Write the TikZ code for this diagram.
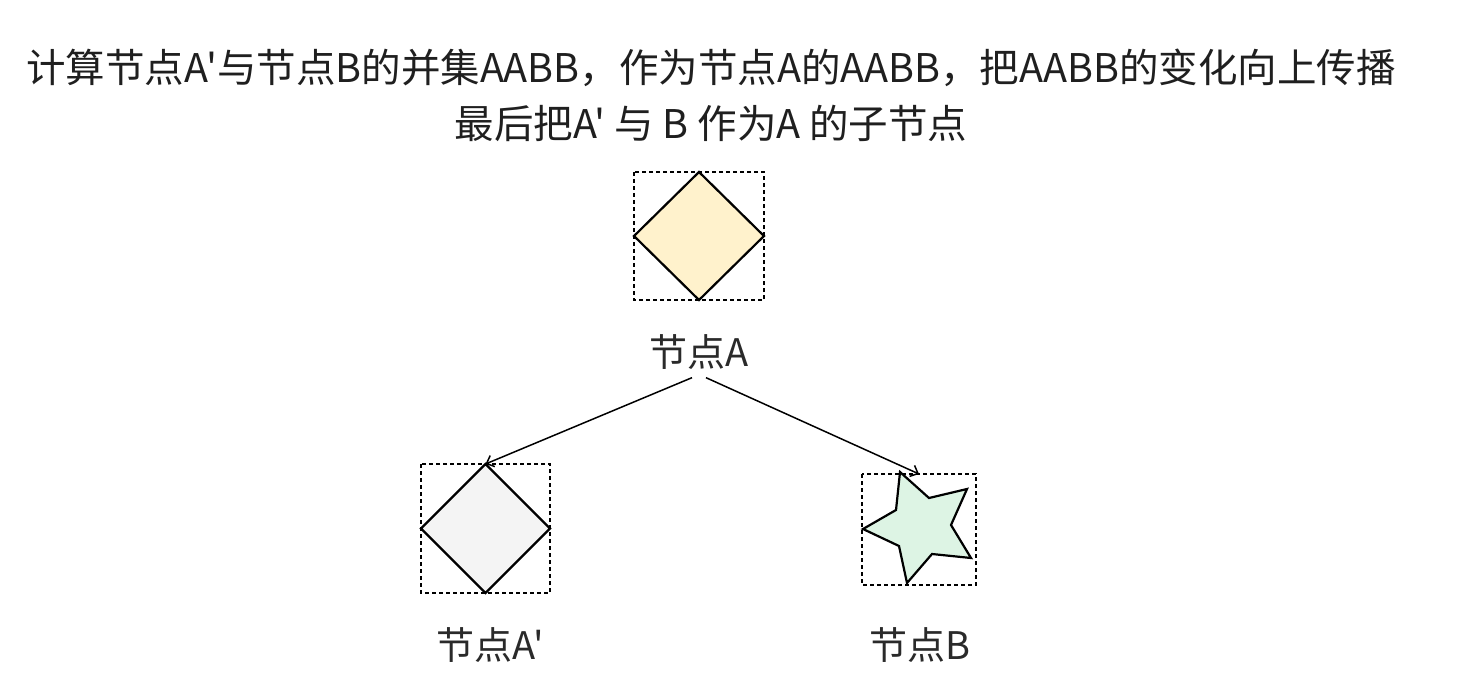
\documentclass[tikz,border=0pt]{standalone}
\usepackage{fontspec}
\setmainfont{Noto Sans CJK SC}[Ligatures=TeXOff]
\usetikzlibrary{arrows.meta}
\definecolor{txt}{HTML}{1F1F1F}
\definecolor{lbl}{HTML}{2A2A2A}
\definecolor{fillA}{HTML}{FFF2CC}
\definecolor{fillAp}{HTML}{F4F4F4}
\definecolor{fillB}{HTML}{DDF4E4}
\begin{document}
\begin{tikzpicture}[x=1pt,y=-1pt,
  aabb/.style={draw=black,dash pattern=on 4pt off 3pt,line width=1.3pt,inner sep=0,outer sep=0},
  shapeline/.style={draw=black,line width=2.2pt,line join=miter},
  lab/.style={text=lbl,font=\fontsize{38}{44}\selectfont,inner sep=0},
  link/.style={draw=black,line width=1.5pt,-{Straight Barb[length=6.5pt,width=12pt,line width=1.5pt]}}]
\useasboundingbox[fill=white] (0,0) rectangle (1463,699);
\node[text=txt,align=center,font=\fontsize{39.5}{56}\selectfont,inner sep=0] (title) at (711,95)
  {计算节点A'与节点B的并集AABB，作为节点A的AABB，把AABB的变化向上传播\\最后把A' 与 B 作为A 的子节点};
% boxes
\node[minimum width=130,minimum height=128,inner sep=0,outer sep=0] (boxA) at (699,236) {};
\node[minimum width=129,minimum height=129,inner sep=0,outer sep=0] (boxAp) at (485.5,528.5) {};
\node[minimum width=114,minimum height=111,inner sep=0,outer sep=0] (boxB) at (919,529.5) {};
% shapes
\path[shapeline,fill=fillA] (boxA.north) -- (boxA.east) -- (boxA.south) -- (boxA.west) -- cycle;
\path[shapeline,fill=fillAp] (boxAp.north) -- (boxAp.east) -- (boxAp.south) -- (boxAp.west) -- cycle;
\path[shapeline,fill=fillB,shift={(boxB.center)}] (-19,-57.5) -- (10,-31.5) -- (48,-40.5) -- (32,-4.5) -- (52,28.5) -- (13,24.5) -- (-12,53.5) -- (-20,16.5) -- (-56,-0.5) -- (-23,-19.5) -- cycle;
\draw[aabb] (boxA.north west) rectangle (boxA.south east);
\draw[aabb] (boxAp.north west) rectangle (boxAp.south east);
\draw[aabb] (boxB.north west) rectangle (boxB.south east);
% labels
\node[lab] (labA) at (699,352) {节点A};
\node[lab] (labAp) at (490,645) {节点A'};
\node[lab] (labB) at (920,645) {节点B};
% links
\draw[link] ([xshift=-7pt,yshift=-8pt]labA.south) -- (boxAp.north);
\draw[link] ([xshift=7pt,yshift=-8pt]labA.south) -- (boxB.north);
\end{tikzpicture}
\end{document}
